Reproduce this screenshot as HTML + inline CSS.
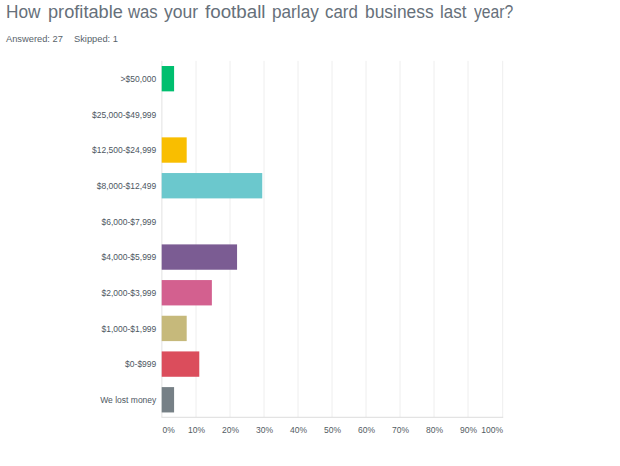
<!DOCTYPE html>
<html><head><meta charset="utf-8"><style>
html,body{margin:0;padding:0;background:#fff;width:620px;height:466px;overflow:hidden;}
body{position:relative;font-family:"Liberation Sans",sans-serif;color:#333e48;}
.tw{position:absolute;top:0px;font-size:17.5px;line-height:24px;white-space:nowrap;color:#66707a;transform-origin:0 0;}
.meta{position:absolute;top:31.8px;font-size:9.3px;line-height:14px;color:#58636b;white-space:nowrap;}
.lb{position:absolute;right:463.7px;font-size:8.5px;line-height:14px;white-space:nowrap;text-align:right;color:#4d575f;}
.ax{position:absolute;top:423.2px;font-size:8.5px;line-height:14px;white-space:nowrap;color:#525c63;}
svg{position:absolute;left:0;top:0;}
</style></head><body>
<svg width="620" height="466" viewBox="0 0 620 466">
<line x1="161.9" y1="60.85" x2="161.9" y2="417.3" stroke="#e2e2e2" stroke-width="1"/>
<line x1="196.0" y1="60.85" x2="196.0" y2="417.3" stroke="#eeeeee" stroke-width="1"/>
<line x1="230.0" y1="60.85" x2="230.0" y2="417.3" stroke="#eeeeee" stroke-width="1"/>
<line x1="264.0" y1="60.85" x2="264.0" y2="417.3" stroke="#eeeeee" stroke-width="1"/>
<line x1="298.0" y1="60.85" x2="298.0" y2="417.3" stroke="#eeeeee" stroke-width="1"/>
<line x1="332.0" y1="60.85" x2="332.0" y2="417.3" stroke="#eeeeee" stroke-width="1"/>
<line x1="366.0" y1="60.85" x2="366.0" y2="417.3" stroke="#eeeeee" stroke-width="1"/>
<line x1="400.0" y1="60.85" x2="400.0" y2="417.3" stroke="#eeeeee" stroke-width="1"/>
<line x1="434.0" y1="60.85" x2="434.0" y2="417.3" stroke="#eeeeee" stroke-width="1"/>
<line x1="468.0" y1="60.85" x2="468.0" y2="417.3" stroke="#eeeeee" stroke-width="1"/>
<line x1="502.7" y1="60.85" x2="502.7" y2="417.3" stroke="#eeeeee" stroke-width="1"/>
<line x1="161.5" y1="417.3" x2="503.2" y2="417.3" stroke="#dcdcdc" stroke-width="1"/>
<rect x="161.7" y="66.01" width="12.39" height="25.35" fill="#00bf6f"/>
<rect x="161.7" y="137.36" width="24.99" height="25.35" fill="#f9be00"/>
<rect x="161.7" y="173.04" width="100.54" height="25.35" fill="#6bc8cd"/>
<rect x="161.7" y="244.39" width="75.36" height="25.35" fill="#7b5c93"/>
<rect x="161.7" y="280.07" width="50.17" height="25.35" fill="#d3608f"/>
<rect x="161.7" y="315.75" width="24.99" height="25.35" fill="#c6b97b"/>
<rect x="161.7" y="351.42" width="37.58" height="25.35" fill="#db4d5c"/>
<rect x="161.7" y="387.10" width="12.39" height="25.35" fill="#768086"/>
</svg>

<div class="meta" style="left:6px">Answered: 27</div>
<div class="meta" style="left:74px">Skipped: 1</div>
<div class="lb" style="top:71.99px">>$50,000</div>
<div class="lb" style="top:107.66px">$25,000-$49,999</div>
<div class="lb" style="top:143.34px">$12,500-$24,999</div>
<div class="lb" style="top:179.02px">$8,000-$12,499</div>
<div class="lb" style="top:214.69px">$6,000-$7,999</div>
<div class="lb" style="top:250.37px">$4,000-$5,999</div>
<div class="lb" style="top:286.04px">$2,000-$3,999</div>
<div class="lb" style="top:321.72px">$1,000-$1,999</div>
<div class="lb" style="top:357.40px">$0-$999</div>
<div class="lb" style="top:393.07px">We lost money</div>
<div class="ax" style="left:162.50px">0%</div>
<div class="ax" style="left:166.60px;width:60px;text-align:center">10%</div>
<div class="ax" style="left:200.60px;width:60px;text-align:center">20%</div>
<div class="ax" style="left:234.60px;width:60px;text-align:center">30%</div>
<div class="ax" style="left:268.60px;width:60px;text-align:center">40%</div>
<div class="ax" style="left:302.60px;width:60px;text-align:center">50%</div>
<div class="ax" style="left:336.60px;width:60px;text-align:center">60%</div>
<div class="ax" style="left:370.60px;width:60px;text-align:center">70%</div>
<div class="ax" style="left:404.60px;width:60px;text-align:center">80%</div>
<div class="ax" style="left:438.60px;width:60px;text-align:center">90%</div>
<div class="ax" style="left:443.00px;width:60px;text-align:right">100%</div>
<span class="tw" style="left:6.11px;transform:scaleX(0.9853)">How</span>
<span class="tw" style="left:47.70px;transform:scaleX(1.0403)">profitable</span>
<span class="tw" style="left:128.40px;transform:scaleX(0.9548)">was</span>
<span class="tw" style="left:163.90px;transform:scaleX(1.0029)">your</span>
<span class="tw" style="left:204.50px;transform:scaleX(1.0714)">football</span>
<span class="tw" style="left:271.60px;transform:scaleX(0.9812)">parlay</span>
<span class="tw" style="left:325.20px;transform:scaleX(0.9647)">card</span>
<span class="tw" style="left:365.20px;transform:scaleX(0.9942)">business</span>
<span class="tw" style="left:440.00px;transform:scaleX(0.9679)">last</span>
<span class="tw" style="left:473.50px;transform:scaleX(0.8977)">year?</span>
</body></html>
